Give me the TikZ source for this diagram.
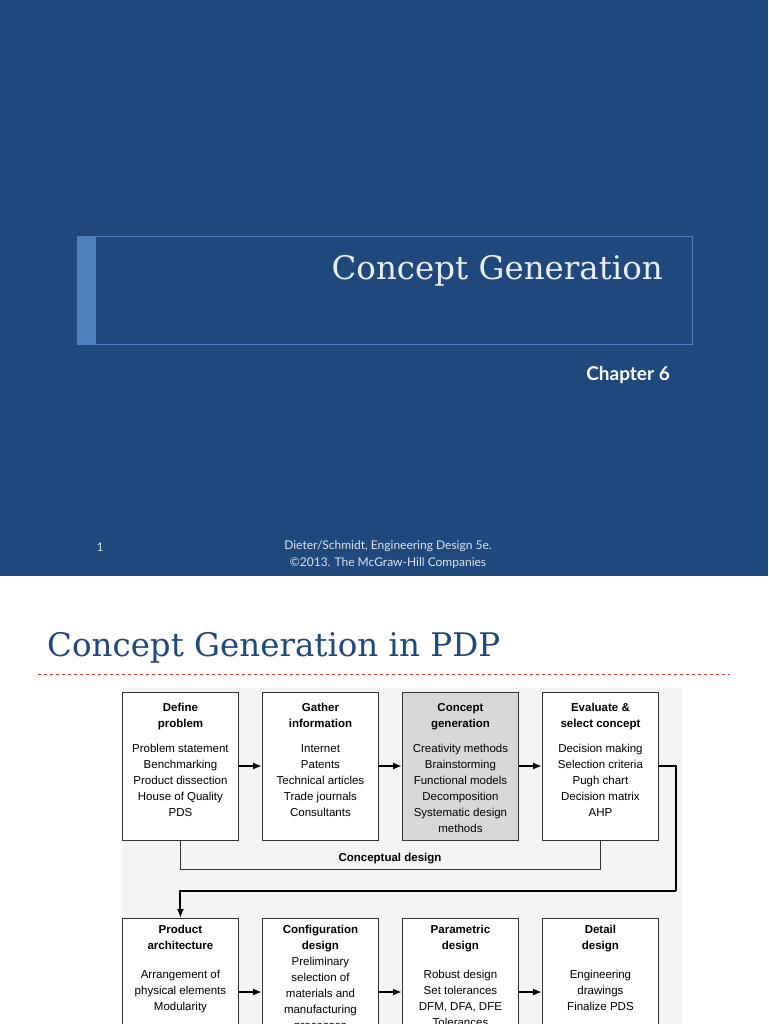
\documentclass[tikz,border=0pt]{standalone}
\usepackage{fontspec}
\setmainfont{Liberation Sans}
\newfontfamily\ttlfont{DejaVu Serif}[Scale=1.0]
\newfontfamily\gillfont{Lato}
\usetikzlibrary{arrows.meta}
\definecolor{slideblue}{RGB}{31,73,125}
\definecolor{barblue}{RGB}{79,129,189}
\definecolor{linblue}{RGB}{84,130,190}
\definecolor{dashred}{RGB}{200,60,50}
\definecolor{diagbg}{RGB}{244,244,244}
\definecolor{hlgray}{RGB}{216,216,216}
\tikzset{
  pbox/.style={draw=black!80, line width=0.9pt, fill=white, minimum width=116, minimum height=148, inner sep=0, anchor=north west},
  pboxhl/.style={pbox, fill=hlgray},
  ptext/.style={anchor=north, align=center, inner sep=0, font=\fontsize{11.5}{16}\selectfont},
  flow/.style={line width=2pt, -{Latex[length=9,width=7]}},
  brk/.style={line width=0.9pt, draw=black!80}
}
\begin{document}
\begin{tikzpicture}[x=1pt,y=-1pt]
\useasboundingbox (0,0) rectangle (768,1024);
\clip (0,0) rectangle (768,1024);
% top slide
\fill[slideblue] (0,0) rectangle (768,576);
\draw[linblue, line width=0.8pt] (77,236) rectangle (692,344);
\fill[barblue] (77,236) rectangle (96,344);
\node[anchor=east, text=white!90!slideblue, font=\ttlfont\fontsize{32.5}{36}\selectfont, inner sep=0] (ttl) at (663,271) {Concept Generation};
\node[anchor=east, text=white, font=\gillfont\bfseries\fontsize{19}{22}\selectfont, inner sep=0] (chap) at (670,375) {Chapter 6};
\node[text=white!85!slideblue, font=\gillfont\fontsize{12}{17}\selectfont, inner sep=0] (pg) at (100,547) {1};
\node[text=white!85!slideblue, font=\gillfont\fontsize{12}{17}\selectfont, align=center, inner sep=0] (foot) at (388,555) {Dieter/Schmidt, Engineering Design 5e.\\\textcopyright2013. The McGraw-Hill Companies};
% bottom slide
\fill[white] (0,576) rectangle (768,1024);
\node[anchor=west, text=slideblue, font=\ttlfont\fontsize{32.5}{36}\selectfont, inner sep=0] (t2) at (47,648) {Concept Generation in PDP};
\draw[dashred, dashed, line width=0.6pt] (38,674) -- (730,674);
\fill[diagbg] (122,688) rectangle (682,1024);
% row 1
\node[pbox] (b1) at (122,692) {};
\node[pbox] (b2) at (262,692) {};
\node[pboxhl] (b3) at (402,692) {};
\node[pbox] (b4) at (542,692) {};
\node[ptext] (l1) at ([yshift=-11]b1.north) {\textbf{Define}\\\textbf{problem}\\[9pt]Problem statement\\Benchmarking\\Product dissection\\House of Quality\\PDS};
\node[ptext] (l2) at ([yshift=-11]b2.north) {\textbf{Gather}\\\textbf{information}\\[9pt]Internet\\Patents\\Technical articles\\Trade journals\\Consultants};
\node[ptext] (l3) at ([yshift=-11]b3.north) {\textbf{Concept}\\\textbf{generation}\\[9pt]Creativity methods\\Brainstorming\\Functional models\\Decomposition\\Systematic design\\methods};
\node[ptext] (l4) at ([yshift=-11]b4.north) {\textbf{Evaluate \&}\\\textbf{select concept}\\[9pt]Decision making\\Selection criteria\\Pugh chart\\Decision matrix\\AHP};
\coordinate (r1) at (0,766);
\draw[flow] (b1.east |- r1) -- (b2.west |- r1);
\draw[flow] (b2.east |- r1) -- (b3.west |- r1);
\draw[flow] (b3.east |- r1) -- (b4.west |- r1);
\draw[brk] (b1.south) -- ++(0,29) -| (b4.south);
\node[font=\bfseries\fontsize{11.5}{14}\selectfont, inner sep=0] (cd) at (390,859) {Conceptual design};
% row 2
\node[pbox] (c1) at (122,918) {};
\node[pbox] (c2) at (262,918) {};
\node[pbox] (c3) at (402,918) {};
\node[pbox] (c4) at (542,918) {};
\coordinate (k1) at (676,766);
\coordinate (k2) at (676,891);
\draw[line width=2pt] (b4.east |- r1) -- (k1) -- (k2);
\draw[flow] (k2) -| (c1.north);
\node[ptext] (m1) at ([yshift=-7]c1.north) {\textbf{Product}\\\textbf{architecture}\\[13pt]Arrangement of\\physical elements\\Modularity};
\node[ptext] (m2) at ([yshift=-7]c2.north) {\textbf{Configuration}\\\textbf{design}\\Preliminary\\selection of\\materials and\\manufacturing\\processes};
\node[ptext] (m3) at ([yshift=-7]c3.north) {\textbf{Parametric}\\\textbf{design}\\[13pt]Robust design\\Set tolerances\\DFM, DFA, DFE\\Tolerances};
\node[ptext] (m4) at ([yshift=-7]c4.north) {\textbf{Detail}\\\textbf{design}\\[13pt]Engineering\\drawings\\Finalize PDS};
\coordinate (r2) at (0,992);
\draw[flow] (c1.east |- r2) -- (c2.west |- r2);
\draw[flow] (c2.east |- r2) -- (c3.west |- r2);
\draw[flow] (c3.east |- r2) -- (c4.west |- r2);
\end{tikzpicture}
\end{document}
